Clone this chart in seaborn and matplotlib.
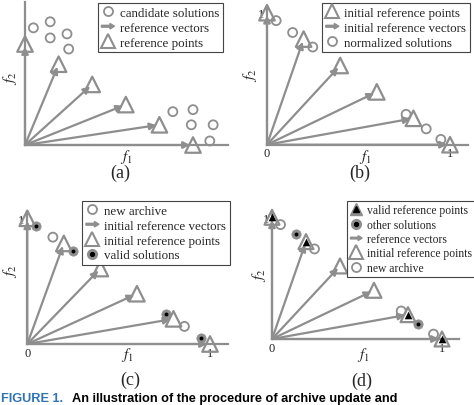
import matplotlib
matplotlib.use("Agg")
import matplotlib.pyplot as plt
import matplotlib.patches as mpatches
from matplotlib.lines import Line2D
from matplotlib.legend_handler import HandlerPatch
import seaborn as sns

# reference points / vector tips (on f1 + f2 = 1)
ref_f1 = [0.0, 0.2, 0.4, 0.6, 0.8, 1.0]
ref_f2 = [1.0, 0.8, 0.6, 0.4, 0.2, 0.0]

# (a) candidate solutions
cand_f1 = [0.05, 0.15, 0.15, 0.25, 0.26, 0.88, 1.00, 0.99, 1.12, 1.10]
cand_f2 = [1.16, 1.22, 1.06, 1.10, 0.95, 0.33, 0.35, 0.20, 0.20, 0.04]

# (b) normalized solutions
norm_f1 = [0.05, 0.14, 0.25, 0.76, 0.87, 0.95]
norm_f2 = [0.94, 0.85, 0.74, 0.23, 0.12, 0.04]

# (c) new archive / valid solutions
arch_c_f1 = [0.14, 0.86]
arch_c_f2 = [0.85, 0.14]
valid_f1 = [0.05, 0.25, 0.76, 0.95]
valid_f2 = [0.94, 0.74, 0.24, 0.05]

# (d) other solutions / new archive / valid reference points
other_f1 = [0.14, 0.86]
other_f2 = [0.86, 0.12]
arch_d_f1 = [0.05, 0.25, 0.76, 0.95]
arch_d_f2 = [0.94, 0.74, 0.23, 0.04]
vref_f1 = [0.0, 0.2, 0.8, 1.0]
vref_f2 = [1.0, 0.8, 0.2, 0.0]

GRAY = "#8e8e8e"
SERIF = "Liberation Serif"
W, H = 474, 406

sns.set_theme(style="white")
plt.rcParams["font.family"] = [SERIF, "DejaVu Sans"]
plt.rcParams["mathtext.fontset"] = "stix"

fig = plt.figure(figsize=(W / 100, H / 100), dpi=100)


def make_axes(left, bottom, ux, uy, xmax, ymax):
    ax = fig.add_axes([left / W, (H - bottom) / H, xmax * ux / W, ymax * uy / H])
    ax.set_xlim(0, xmax)
    ax.set_ylim(0, ymax)
    sns.despine(ax=ax)
    for s in ["left", "bottom"]:
        ax.spines[s].set_color(GRAY)
        ax.spines[s].set_linewidth(1.6)
    ax.tick_params(direction="in", length=3, width=1, color=GRAY,
                   labelsize=9, pad=2, labelcolor="#222222")
    ax.set_facecolor("none")
    return ax


def draw_vectors(ax):
    for x, y in zip(ref_f1, ref_f2):
        ax.annotate("", xy=(x, y), xytext=(0, 0), zorder=2,
                    arrowprops=dict(arrowstyle="-|>", color=GRAY, lw=1.6,
                                    mutation_scale=10, shrinkA=0, shrinkB=2))


def open_pts(ax, x, y, marker, s, lw):
    sns.scatterplot(x=x, y=y, marker=marker, s=s, facecolor="none",
                    edgecolor=GRAY, linewidth=lw, ax=ax, zorder=4, clip_on=False)


def dot_pts(ax, x, y):
    sns.scatterplot(x=x, y=y, marker="o", s=45, color=GRAY, edgecolor=GRAY,
                    linewidth=0.5, ax=ax, zorder=4, clip_on=False)
    sns.scatterplot(x=x, y=y, marker="o", s=8, color="black", edgecolor="black",
                    linewidth=0, ax=ax, zorder=5, clip_on=False)


def labels(ax, xl, yl, ticks):
    ax.set_xlabel(r"$f_1$", fontsize=11, va="center")
    ax.set_ylabel(r"$f_2$", fontsize=11, va="center")
    ax.xaxis.set_label_coords(*xl)
    ax.yaxis.set_label_coords(*yl)
    if ticks:
        ax.set_xticks([0, 0.2, 0.4, 0.6, 0.8, 1.0], ["0", "", "", "", "", "1"])
        ax.set_yticks([0, 0.5, 1.0], ["", "", "1"])


def make_arrow(legend, orig_handle, xdescent, ydescent, width, height, fontsize):
    return mpatches.FancyArrow(-xdescent, 0.5 * height - ydescent, width, 0,
                               width=0.2 * height, head_width=0.6 * height,
                               head_length=0.35 * width, length_includes_head=True,
                               color=GRAY)


h_circle = Line2D([], [], marker="o", ls="none", mfc="none", mec=GRAY, mew=1.3, ms=6.5)
h_tri = Line2D([], [], marker="^", ls="none", mfc="none", mec=GRAY, mew=1.5, ms=10)
h_arrow = mpatches.FancyArrow(0, 0, 1, 0, color=GRAY)
h_dot = (Line2D([], [], marker="o", ls="none", mfc=GRAY, mec=GRAY, ms=7),
         Line2D([], [], marker="o", ls="none", mfc="black", mec="black", ms=2.8))
h_vtri = (Line2D([], [], marker="^", ls="none", mfc=GRAY, mec=GRAY, mew=1.0, ms=9),
          Line2D([], [], marker="^", ls="none", mfc="black", mec="black", ms=5))


def add_legend(ax, handles, names, anchor, loc, fs):
    leg = ax.legend(handles, names, loc=loc, bbox_to_anchor=(anchor[0] / W, 1 - anchor[1] / H),
                    bbox_transform=fig.transFigure, borderaxespad=0, fontsize=fs,
                    handlelength=1.0, handletextpad=0.4, borderpad=0.3, labelspacing=0.2,
                    fancybox=False, framealpha=1, edgecolor="#444444",
                    handler_map={h_arrow: HandlerPatch(patch_func=make_arrow)})
    leg.get_frame().set_linewidth(0.8)
    leg.set_zorder(10)


# ---- (a)
ax = make_axes(25, 146, 168, 101, 1.21, 1.42)
ax.set_xticks([0.2, 0.4, 0.6, 0.8, 1.0], [])
ax.set_yticks([0.2, 0.4, 0.6, 0.8, 1.0, 1.2], [])
draw_vectors(ax)
open_pts(ax, ref_f1, ref_f2, "^", 125, 1.6)
open_pts(ax, cand_f1, cand_f2, "o", 42, 1.3)
labels(ax, (0.5, -0.077), (-0.074, 0.474), False)
add_legend(ax, [h_circle, h_arrow, h_tri],
           ["candidate solutions", "reference vectors", "reference points"],
           (223, 4), "upper right", 9.4)

# ---- (b)
ax = make_axes(267, 145.7, 183, 132, 1.10, 1.04)
draw_vectors(ax)
open_pts(ax, ref_f1, ref_f2, "^", 125, 1.6)
open_pts(ax, norm_f1, norm_f2, "o", 42, 1.3)
labels(ax, (0.488, -0.08), (-0.083, 0.515), True)
add_legend(ax, [h_tri, h_arrow, h_circle],
           ["initial reference points", "initial reference vectors", "normalized solutions"],
           (470, 4), "upper right", 9.4)

# ---- (c)
ax = make_axes(27.3, 345, 182.7, 125.7, 1.10, 1.05)
draw_vectors(ax)
open_pts(ax, ref_f1, ref_f2, "^", 125, 1.6)
open_pts(ax, arch_c_f1, arch_c_f2, "o", 42, 1.3)
dot_pts(ax, valid_f1, valid_f2)
labels(ax, (0.5, -0.076), (-0.086, 0.555), True)
add_legend(ax, [h_circle, h_arrow, h_tri, h_dot],
           ["new archive", "initial reference vectors", "initial reference points", "valid solutions"],
           (82, 202), "upper left", 9.4)

# ---- (d)
ax = make_axes(272, 340, 170, 121.7, 1.10, 1.04)
draw_vectors(ax)
open_pts(ax, ref_f1, ref_f2, "^", 115, 1.6)
sns.scatterplot(x=vref_f1, y=vref_f2, marker="^", s=30, color="black", edgecolor="black",
                linewidth=0, ax=ax, zorder=5, clip_on=False)
dot_pts(ax, other_f1, other_f2)
open_pts(ax, arch_d_f1, arch_d_f2, "o", 42, 1.3)
labels(ax, (0.487, -0.118), (-0.071, 0.513), True)
add_legend(ax, [h_vtri, h_dot, h_arrow, h_tri, h_circle],
           ["valid reference points", "other solutions", "reference vectors",
            "initial reference points", "new archive"],
           (347, 202), "upper left", 8.4)

# panel captions
for txt, x, y in [("(a)", 120, 173), ("(b)", 360, 173), ("(c)", 130, 380), ("(d)", 362, 381)]:
    fig.text(x / W, 1 - y / H, txt, ha="center", va="center", fontsize=13, family=SERIF)

# figure caption along the bottom edge
fig.text(1 / W, 1 - 405 / H, "FIGURE 1.", color="#2f74b5", weight="bold",
         fontsize=9.2, family="Liberation Sans", va="bottom")
fig.text(72 / W, 1 - 405 / H, "An illustration of the procedure of archive update and",
         color="black", weight="bold", fontsize=9.2, family="Liberation Sans", va="bottom")

fig.savefig("out.png", dpi=100)
